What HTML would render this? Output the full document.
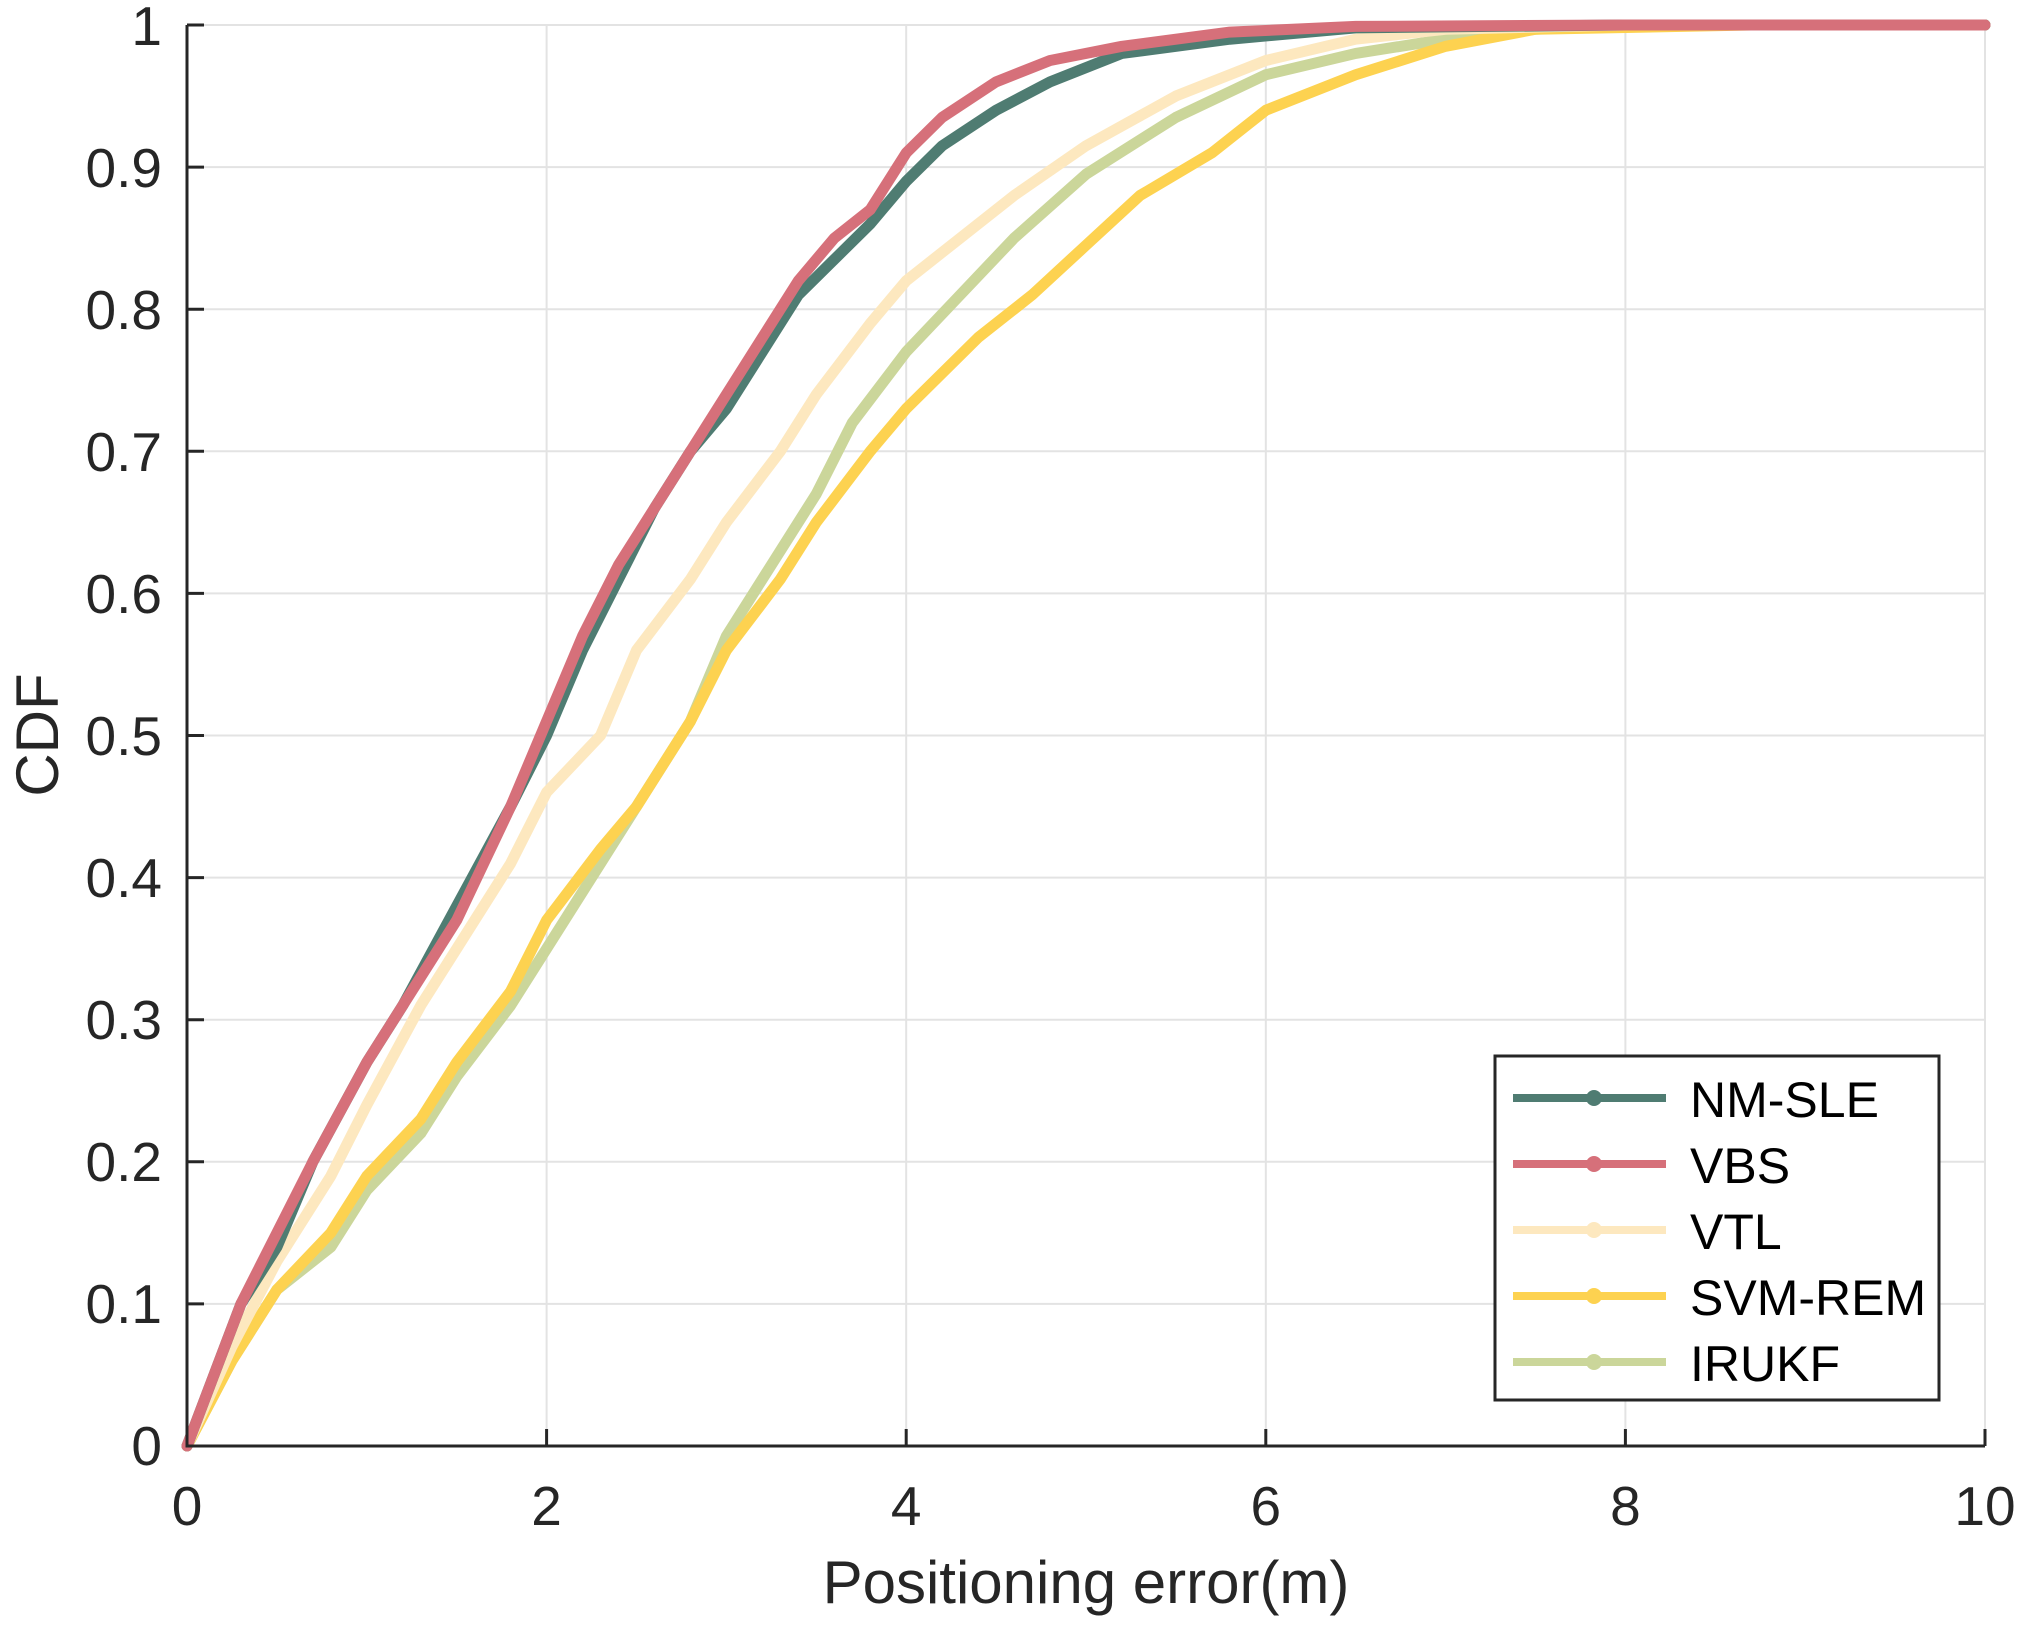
<!DOCTYPE html>
<html><head><meta charset="utf-8"><style>
html,body{margin:0;padding:0;background:#fff;}
svg{display:block;}
text{font-family:"Liberation Sans",Arial,sans-serif;fill:#262626;}
</style></head><body>
<svg width="2021" height="1627" viewBox="0 0 2021 1627" xmlns="http://www.w3.org/2000/svg">
<rect width="2021" height="1627" fill="#fff"/>
<g stroke="#e3e3e3" stroke-width="2">
<line x1="546.6" y1="25" x2="546.6" y2="1446"/>
<line x1="906.2" y1="25" x2="906.2" y2="1446"/>
<line x1="1265.8" y1="25" x2="1265.8" y2="1446"/>
<line x1="1625.4" y1="25" x2="1625.4" y2="1446"/>
<line x1="1985" y1="25" x2="1985" y2="1446"/>
<line x1="187" y1="25" x2="1985" y2="25"/>
<line x1="187" y1="167.1" x2="1985" y2="167.1"/>
<line x1="187" y1="309.2" x2="1985" y2="309.2"/>
<line x1="187" y1="451.3" x2="1985" y2="451.3"/>
<line x1="187" y1="593.4" x2="1985" y2="593.4"/>
<line x1="187" y1="735.5" x2="1985" y2="735.5"/>
<line x1="187" y1="877.6" x2="1985" y2="877.6"/>
<line x1="187" y1="1019.7" x2="1985" y2="1019.7"/>
<line x1="187" y1="1161.8" x2="1985" y2="1161.8"/>
<line x1="187" y1="1303.9" x2="1985" y2="1303.9"/>
</g>
<g transform="translate(187,1446) scale(179.8,-1421)" fill="none" stroke-linejoin="round" stroke-linecap="round">
<polyline vector-effect="non-scaling-stroke" stroke="#cbd69a" stroke-width="11" points="0,0 0.25,0.06 0.5,0.11 0.8,0.14 1,0.18 1.3,0.22 1.5,0.26 1.8,0.31 2,0.35 2.3,0.41 2.5,0.45 2.8,0.51 3,0.57 3.2,0.61 3.5,0.67 3.7,0.72 4,0.77 4.3,0.81 4.6,0.85 5,0.895 5.5,0.935 6,0.965 6.5,0.98 7,0.99 7.5,0.997 8,1 10,1"/>
<polyline vector-effect="non-scaling-stroke" stroke="#fdd250" stroke-width="11" points="0,0 0.25,0.06 0.5,0.11 0.8,0.15 1,0.19 1.3,0.23 1.5,0.27 1.8,0.32 2,0.37 2.3,0.42 2.5,0.45 2.8,0.51 3,0.56 3.3,0.61 3.5,0.65 3.8,0.7 4,0.73 4.4,0.78 4.7,0.81 5,0.845 5.3,0.88 5.7,0.91 6,0.94 6.5,0.965 7,0.985 7.5,0.997 8.7,1 10,1"/>
<polyline vector-effect="non-scaling-stroke" stroke="#fde8bf" stroke-width="11" points="0,0 0.25,0.07 0.5,0.13 0.8,0.19 1,0.24 1.3,0.31 1.5,0.35 1.8,0.41 2,0.46 2.3,0.5 2.5,0.56 2.8,0.61 3,0.65 3.3,0.7 3.5,0.74 3.8,0.79 4,0.82 4.3,0.85 4.6,0.88 5,0.915 5.5,0.95 6,0.975 6.5,0.99 7,0.997 8,1 10,1"/>
<polyline vector-effect="non-scaling-stroke" stroke="#4f7c72" stroke-width="11" points="0,0 0.15,0.05 0.3,0.1 0.5,0.14 0.7,0.2 1,0.27 1.2,0.31 1.5,0.38 1.8,0.45 2,0.5 2.2,0.56 2.4,0.61 2.6,0.66 2.8,0.7 3,0.73 3.2,0.77 3.4,0.81 3.6,0.835 3.8,0.86 4,0.89 4.2,0.915 4.5,0.94 4.8,0.96 5.2,0.98 5.8,0.99 6.5,0.998 8,1 10,1"/>
<polyline vector-effect="non-scaling-stroke" stroke="#d6707a" stroke-width="11" points="0,0 0.15,0.05 0.3,0.1 0.5,0.15 0.7,0.2 1,0.27 1.2,0.31 1.5,0.37 1.8,0.45 2,0.51 2.2,0.57 2.4,0.62 2.6,0.66 2.8,0.7 3,0.74 3.2,0.78 3.4,0.82 3.6,0.85 3.8,0.87 4,0.91 4.2,0.935 4.5,0.96 4.8,0.975 5.2,0.985 5.8,0.995 6.5,0.999 8,1 10,1"/>
</g>
<g stroke="#262626" stroke-width="3" fill="none">
<polyline points="187,25 187,1446 1985,1446"/>
<line x1="546.6" y1="1446" x2="546.6" y2="1429"/>
<line x1="906.2" y1="1446" x2="906.2" y2="1429"/>
<line x1="1265.8" y1="1446" x2="1265.8" y2="1429"/>
<line x1="1625.4" y1="1446" x2="1625.4" y2="1429"/>
<line x1="1985" y1="1446" x2="1985" y2="1429"/>
<line x1="187" y1="25" x2="204" y2="25"/>
<line x1="187" y1="167.1" x2="204" y2="167.1"/>
<line x1="187" y1="309.2" x2="204" y2="309.2"/>
<line x1="187" y1="451.3" x2="204" y2="451.3"/>
<line x1="187" y1="593.4" x2="204" y2="593.4"/>
<line x1="187" y1="735.5" x2="204" y2="735.5"/>
<line x1="187" y1="877.6" x2="204" y2="877.6"/>
<line x1="187" y1="1019.7" x2="204" y2="1019.7"/>
<line x1="187" y1="1161.8" x2="204" y2="1161.8"/>
<line x1="187" y1="1303.9" x2="204" y2="1303.9"/>
</g>
<g font-size="55" text-anchor="end">
<text x="162" y="45">1</text>
<text x="162" y="187">0.9</text>
<text x="162" y="329">0.8</text>
<text x="162" y="471">0.7</text>
<text x="162" y="613">0.6</text>
<text x="162" y="755">0.5</text>
<text x="162" y="897">0.4</text>
<text x="162" y="1039">0.3</text>
<text x="162" y="1181">0.2</text>
<text x="162" y="1323">0.1</text>
<text x="162" y="1465">0</text>
</g>
<g font-size="55" text-anchor="middle">
<text x="187" y="1525">0</text>
<text x="546.6" y="1525">2</text>
<text x="906.2" y="1525">4</text>
<text x="1265.8" y="1525">6</text>
<text x="1625.4" y="1525">8</text>
<text x="1985" y="1525">10</text>
</g>
<text x="1086" y="1603" font-size="60" text-anchor="middle">Positioning error(m)</text>
<text transform="translate(58,735) rotate(-90)" font-size="60" text-anchor="middle">CDF</text>
<rect x="1495" y="1056" width="444" height="344" fill="#fff" stroke="#262626" stroke-width="3"/>
<g stroke-width="8">
<line x1="1513" y1="1098" x2="1666" y2="1098" stroke="#4f7c72"/><circle cx="1594" cy="1098" r="8" fill="#4f7c72"/>
<line x1="1513" y1="1164" x2="1666" y2="1164" stroke="#d6707a"/><circle cx="1594" cy="1164" r="8" fill="#d6707a"/>
<line x1="1513" y1="1230" x2="1666" y2="1230" stroke="#fde8bf"/><circle cx="1594" cy="1230" r="8" fill="#fde8bf"/>
<line x1="1513" y1="1296" x2="1666" y2="1296" stroke="#fdd250"/><circle cx="1594" cy="1296" r="8" fill="#fdd250"/>
<line x1="1513" y1="1362" x2="1666" y2="1362" stroke="#cbd69a"/><circle cx="1594" cy="1362" r="8" fill="#cbd69a"/>
</g>
<g font-size="50">
<text x="1690" y="1117" style="fill:#000">NM-SLE</text>
<text x="1690" y="1183" style="fill:#000">VBS</text>
<text x="1690" y="1249" style="fill:#000">VTL</text>
<text x="1690" y="1315" style="fill:#000">SVM-REM</text>
<text x="1690" y="1381" style="fill:#000">IRUKF</text>
</g>
</svg>
</body></html>
